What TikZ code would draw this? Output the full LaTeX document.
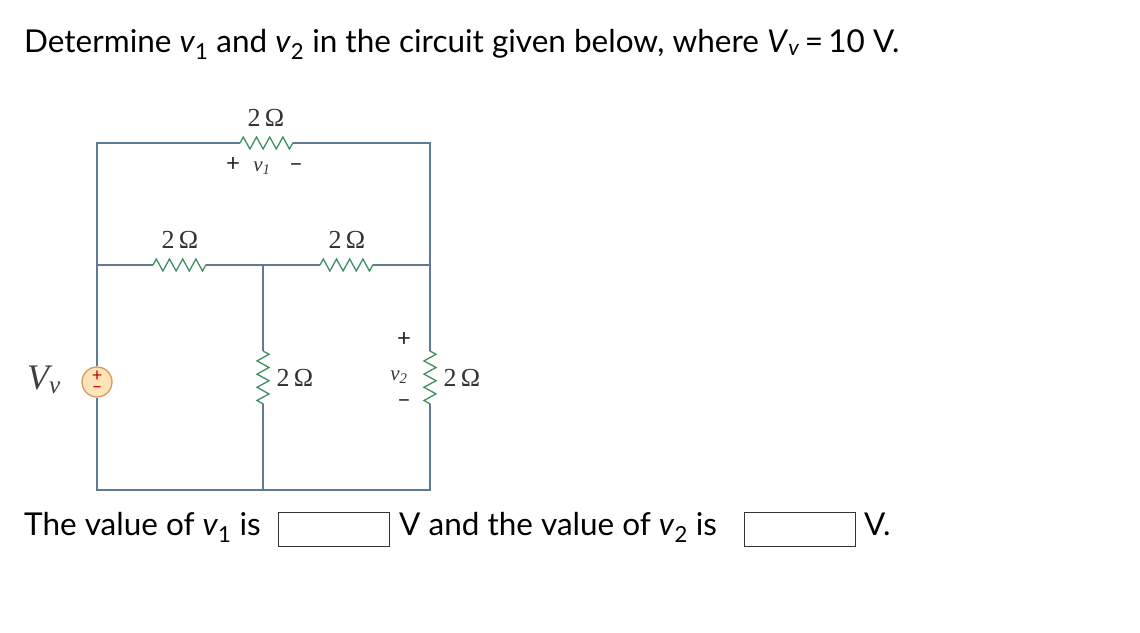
\documentclass[tikz,border=0pt]{standalone}
\usepackage{fontspec}
\setmainfont{Lato}
\newfontfamily\cirf{Liberation Serif}
\usetikzlibrary{decorations.pathmorphing}
\definecolor{wire}{HTML}{5F7A92}
\definecolor{res}{HTML}{3F8F63}
\definecolor{srcf}{HTML}{FCE3B8}
\definecolor{srcd}{HTML}{D99A66}
\begin{document}
\begin{tikzpicture}[x=1pt,y=-1pt,
  w/.style={draw=wire,line width=1.5pt},
  rz/.style={draw=res,line width=1.3pt,decorate,decoration={zigzag,segment length=13.2pt,amplitude=6pt}},
  lab/.style={font=\cirf\fontsize{26}{26}\selectfont,text=black!80},
  sgn/.style={font=\fontsize{24}{24}\selectfont,text=black!85},
  txt/.style={font=\fontsize{31.5}{31.5}\selectfont,anchor=base west,inner sep=0pt},
  box/.style={draw=black!80,line width=1pt,minimum width=111pt,minimum height=34pt,inner sep=0pt}]
\useasboundingbox (0,0) rectangle (1140,632);
\node[txt] (title) at (24,52) {Determine \textit{v}\textsubscript{1} and \textit{v}\textsubscript{2} in the circuit given below, where \textit{V}\textsubscript{\textit{v}}\,=\,10 V.};
% coordinates
\coordinate (tl) at (97,143); \coordinate (tr) at (430,143);
\coordinate (ml) at (97,265); \coordinate (mm) at (263,265); \coordinate (mr) at (430,265);
\coordinate (bl) at (97,490); \coordinate (bm) at (263,490); \coordinate (br) at (430,490);
\coordinate (r1a) at (240,143); \coordinate (r1b) at (293,143);
\coordinate (r2a) at (153,265); \coordinate (r2b) at (206,265);
\coordinate (r3a) at (320,265); \coordinate (r3b) at (373,265);
\coordinate (r4a) at (263,351); \coordinate (r4b) at (263,404);
\coordinate (r5a) at (430,351); \coordinate (r5b) at (430,404);
\node[circle,draw=srcd,fill=srcf,line width=1.3pt,minimum size=30pt,inner sep=0pt,
  text=red!75!black,font=\fontsize{18}{15}\selectfont,align=center] (src) at (97,382) {+\\[-4pt]--};
% wires
\draw[w] (src.north) -- (ml) -- (tl) -- (r1a);
\draw[w] (r1b) -- (tr) -- (mr) -- (r5a);
\draw[w] (ml) -- (r2a); \draw[w] (r2b) -- (mm) -- (r3a); \draw[w] (r3b) -- (mr);
\draw[w] (mm) -- (r4a); \draw[w] (r4b) -- (bm);
\draw[w] (r5b) -- (br) -- (bm) -- (bl) -- (src.south);
% resistors
\draw[rz] (r1a) -- (r1b); \draw[rz] (r2a) -- (r2b); \draw[rz] (r3a) -- (r3b);
\draw[rz] (r4a) -- (r4b); \draw[rz] (r5a) -- (r5b);
% labels
\node[lab] (l1) at (266,118) {2\,Ω};
\node[lab] (l2) at (180,240) {2\,Ω};
\node[lab] (l3) at (347,240) {2\,Ω};
\node[lab,anchor=west] (l4) at (273,378) {2\,Ω};
\node[lab,anchor=west] (l5) at (440,378) {2\,Ω};
\node[sgn] at (233,165) {+};
\node[lab,font=\cirf\itshape\fontsize{21}{21}\selectfont] at (262,168) {v\textsubscript{1}};
\node[sgn] at (296,168) {--};
\node[sgn] at (404,339) {+};
\node[lab,font=\cirf\itshape\fontsize{21}{21}\selectfont] at (399,377) {v\textsubscript{2}};
\node[sgn] at (404,404) {--};
\node[font=\cirf\itshape\fontsize{36}{36}\selectfont,text=black!75] at (44,380) {V\textsubscript{v}};
% bottom text
\node[txt] (t1) at (24,535) {The value of \textit{v}\textsubscript{1} is};
\node[box] (b1) at (334,529) {};
\node[txt] (t2) at (399,535) {V and the value of \textit{v}\textsubscript{2} is};
\node[box] (b2) at (800,529) {};
\node[txt] (t3) at (864,535) {V.};
\end{tikzpicture}
\end{document}
